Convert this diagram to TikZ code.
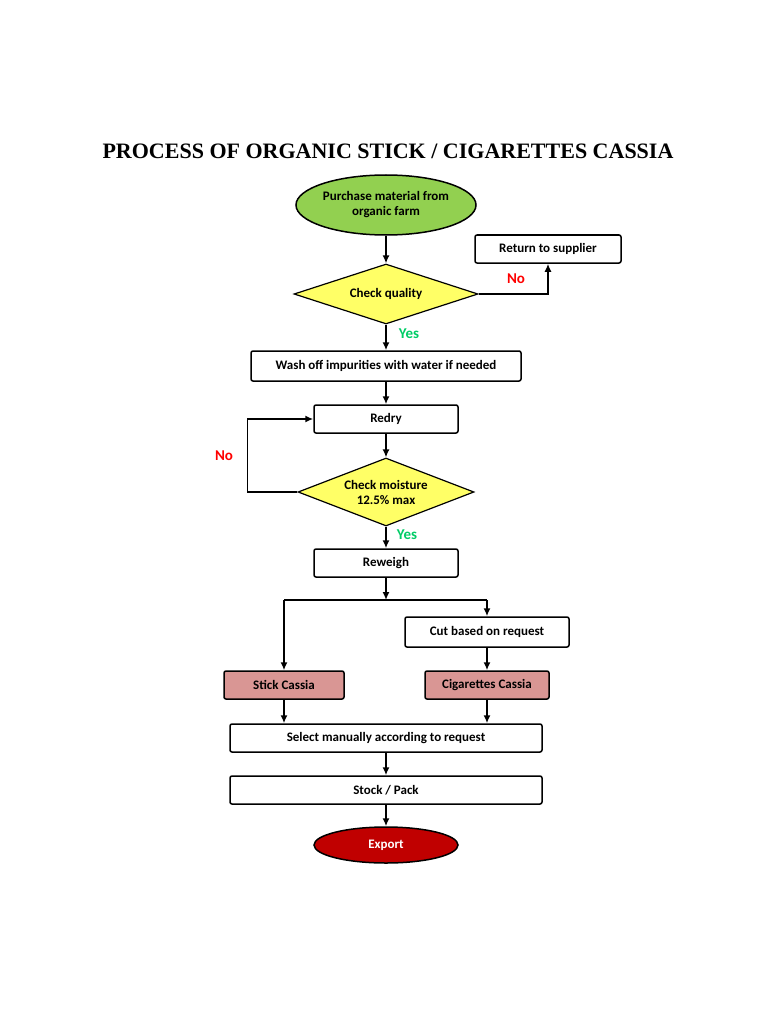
\documentclass[tikz,border=0pt]{standalone}
\usepackage{fontspec}
\setmainfont{Carlito}
\newfontfamily\titlefont{Liberation Serif}
\usetikzlibrary{shapes.geometric,arrows.meta}
\definecolor{leaf}{HTML}{92D050}
\definecolor{lemon}{HTML}{FFFF66}
\definecolor{rose}{HTML}{D99694}
\definecolor{crimson}{HTML}{C00000}
\definecolor{okgreen}{HTML}{00CC66}
\tikzset{
  box/.style={draw,line width=1.5pt,rounded corners=2pt,minimum height=28pt,font=\bfseries\fontsize{13}{15}\selectfont},
  check/.style={draw,line width=1.2pt,diamond,aspect=3,fill=lemon,inner sep=0pt,font=\bfseries\fontsize{13}{15}\selectfont,align=center},
  oval/.style={draw,line width=1.5pt,ellipse,inner sep=0pt,font=\bfseries\fontsize{13}{15}\selectfont,align=center},
  flow/.style={line width=1.5pt,-{Latex[length=8pt,width=7pt]}},
  nolab/.style={text=red,font=\bfseries\fontsize{15}{17}\selectfont},
  yeslab/.style={text=okgreen,font=\bfseries\fontsize{15}{17}\selectfont}
}
\begin{document}
\begin{tikzpicture}[x=1pt,y=-1pt]
    \useasboundingbox (0,0) rectangle (768,1024);
    \node[font=\titlefont\bfseries\fontsize{22}{26}\selectfont] (title) at (388,151) {PROCESS OF ORGANIC STICK / CIGARETTES CASSIA};

    \node[oval,fill=leaf,minimum width=180pt,minimum height=60pt] (buy) at (386,205) {Purchase material from\\organic farm};
    \node[box,minimum width=146pt] (back) at (548,249) {Return to supplier};
    \node[check,minimum width=184pt,minimum height=60pt] (quality) at (386,294) {Check quality};
    \node[box,minimum width=270pt,minimum height=30pt] (wash) at (386,366) {Wash off impurities with water if needed};
    \node[box,minimum width=144pt] (redry) at (386,419) {Redry};
    \node[check,minimum width=176pt,minimum height=68pt] (moist) at (386,492) {Check moisture\\12.5\% max};
    \node[box,minimum width=144pt] (weigh) at (386,563) {Reweigh};
    \node[box,minimum width=164pt,minimum height=30pt] (cut) at (487,632) {Cut based on request};
    \node[box,fill=rose,minimum width=120pt] (stick) at (284,685) {Stick Cassia};
    \node[box,fill=rose,minimum width=124pt] (cig) at (487,685) {Cigarettes Cassia};
    \node[box,minimum width=312pt] (select) at (386,738) {Select manually according to request};
    \node[box,minimum width=312pt] (pack) at (386,790) {Stock / Pack};
    \node[oval,fill=crimson,text=white,minimum width=144pt,minimum height=36pt] (export) at (386,845) {Export};

    \coordinate (split) at (386,600);
    \coordinate (left) at (284,600);
    \coordinate (right) at (487,600);

    \draw[flow] (quality.east) -| (back.south);
    \node[nolab] (nq) at (516,279) {No};
    \node[nolab] (nm) at (224,456) {No};
    \node[yeslab] (yq) at (409,334) {Yes};
    \node[yeslab] (ym) at (407,535) {Yes};

    \draw[flow] (buy) -- (quality);
    \draw[flow] (quality) -- (wash);
    \draw[flow] (wash) -- (redry);
    \draw[flow] (redry) -- (moist);
    \draw[flow] (moist.west) -- ++(-50,0) |- (redry.west);
    \draw[flow] (moist) -- (weigh);
    \draw[flow] (weigh) -- (split);
    \draw[line width=1.5pt] (left) -- (right);
    \draw[flow] (left) -- (stick);
    \draw[flow] (right) -- (cut);
    \draw[flow] (cut) -- (cig);
    \draw[flow] (stick) -- (stick |- select.north);
    \draw[flow] (cig) -- (cig |- select.north);
    \draw[flow] (select) -- (pack);
    \draw[flow] (pack) -- (export);
\end{tikzpicture}
\end{document}
